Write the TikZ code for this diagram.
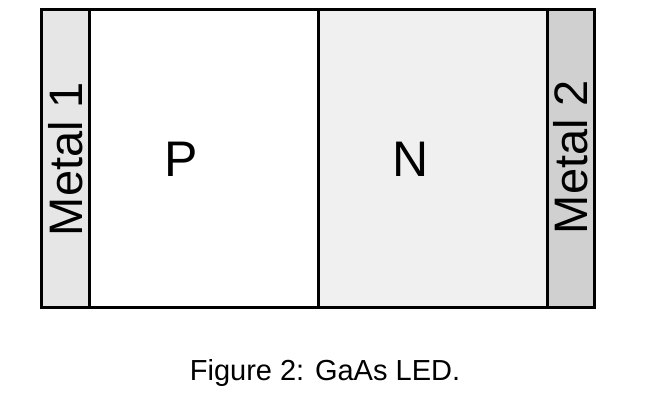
\documentclass[tikz,border=0pt]{standalone}
\usepackage{fontspec}
\setmainfont{Liberation Sans}
\definecolor{metalone}{HTML}{E6E6E6}
\definecolor{ntype}{HTML}{F0F0F0}
\definecolor{metaltwo}{HTML}{D0D0D0}
\begin{document}
\begin{tikzpicture}[x=1pt,y=-1pt,
  region/.style={draw=black, line width=3pt, inner sep=0pt, outer sep=0pt, anchor=north west, minimum height=298pt},
  biglabel/.style={font=\fontsize{50}{50}\selectfont, inner sep=0pt},
  metallabel/.style={font=\fontsize{47}{47}\selectfont, inner sep=0pt, rotate=90}]
\useasboundingbox (0,0) rectangle (672,400);
\node[region, fill=metalone, minimum width=48pt] (m1) at (41,9) {};
\node[region, fill=white, minimum width=229pt] (p) at (89,9) {};
\node[region, fill=ntype, minimum width=229pt] (n) at (318,9) {};
\node[region, fill=metaltwo, minimum width=47pt] (m2) at (547,9) {};
\node[metallabel] (m1t) at (66,159) {Metal 1};
\node[metallabel] (m2t) at (571,157) {Metal 2};
\node[biglabel] (pt) at (181,159) {P};
\node[biglabel] (nt) at (411,159) {N};
\node[font=\fontsize{29}{29}\selectfont, anchor=base, inner sep=0pt] (cap) at (325,380) {Figure 2: GaAs LED.};
\end{tikzpicture}
\end{document}
